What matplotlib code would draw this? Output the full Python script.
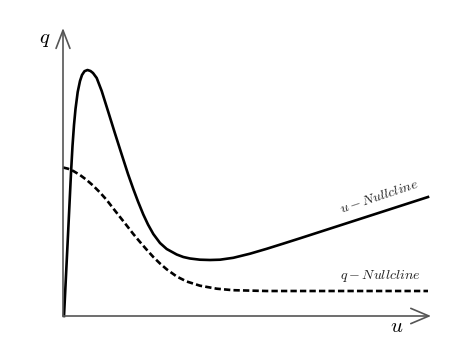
import matplotlib
matplotlib.use('Agg')
import matplotlib.pyplot as plt

plt.rcParams['mathtext.fontset'] = 'cm'

# u-nullcline (solid), values
u_solid = [1, 5, 8, 9.5, 11, 12.5, 14.7, 17, 19, 21.5, 24.5, 27.5, 30, 33.7,
           38.7, 45.3, 52, 58.7, 65, 70.3, 75, 80.3, 85, 90.3, 97, 103.7, 113.7,
           120.3, 127, 137, 147, 157, 170.3, 187, 203.7, 220.3, 237, 365]
q_solid = [0, 81, 143, 170, 191, 207, 224, 235, 241, 244.8, 246, 245, 243, 238,
           225, 204, 182.5, 161.5, 142, 127, 114.5, 101.5, 91.5, 82, 73, 67, 61.5,
           59, 57.5, 56.3, 56, 56.3, 58.2, 62.3, 67.2, 72.4, 77.7, 119]

# q-nullcline (dashed)
u_dash = [0, 5, 10.3, 17, 23.7, 30, 37, 43.7, 50.3, 57, 63.7, 70.3, 77, 83.7,
          90.3, 97, 103.7, 113.7, 123.7, 137, 153.7, 170, 203.7, 365]
q_dash = [148.5, 147.3, 145, 141, 136, 130.5, 123.5, 116, 107.5, 99, 90.5, 82, 74, 66.3,
          59, 52.5, 46.7, 39.5, 34.5, 30.3, 27.3, 25.8, 25, 25]

fig = plt.figure(figsize=(4.74, 3.56), dpi=100)
ax = fig.add_axes([0, 0, 1, 1])
ax.set_xlim(-63, 411)
ax.set_ylim(-40, 316)
ax.axis('off')

# axes with open arrow heads
axis_col = '#555555'
ax.annotate('', xy=(0, 288), xytext=(0, 0),
            arrowprops=dict(arrowstyle='->,head_length=1.3,head_width=0.5',
                            color=axis_col, lw=1.2, shrinkA=0, shrinkB=0))
ax.annotate('', xy=(368, 0), xytext=(0, 0),
            arrowprops=dict(arrowstyle='->,head_length=1.3,head_width=0.55',
                            color=axis_col, lw=1.2, shrinkA=0, shrinkB=0))

ax.plot(u_solid, q_solid, color='black', lw=1.9, solid_joinstyle='round')
ax.plot(u_dash, q_dash, color='black', lw=1.9, dashes=(2.4, 1.2))

ax.text(-18, 277, '$q$', fontsize=15, ha='center', va='center')
ax.text(334, -10, '$u$', fontsize=15, ha='center', va='center')
ax.text(318, 113, '$u-Nullcline$', fontsize=10, ha='center', va='bottom',
        rotation=18.4, rotation_mode='anchor', color='#222222')
ax.text(317, 32, '$q-Nullcline$', fontsize=10, ha='center', va='bottom',
        color='#222222')

fig.savefig('out.png', dpi=100)
